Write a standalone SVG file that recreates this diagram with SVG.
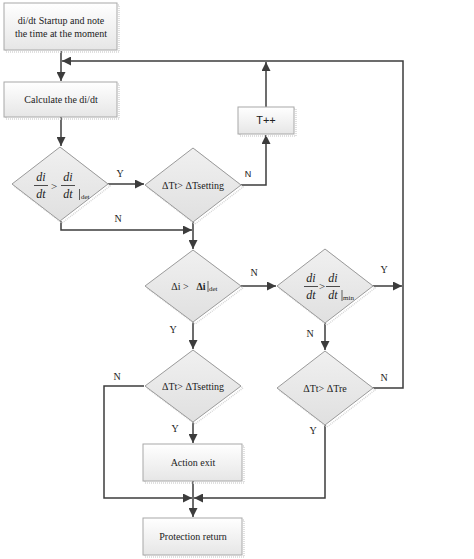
<svg xmlns="http://www.w3.org/2000/svg" width="474" height="559" viewBox="0 0 474 559">
<defs>
<linearGradient id="gBox" x1="0" y1="0" x2="0" y2="1"><stop offset="0" stop-color="#ffffff"/><stop offset="1" stop-color="#e6e6e6"/></linearGradient>
<linearGradient id="gDia" x1="0" y1="0" x2="0" y2="1"><stop offset="0" stop-color="#f0f0f0"/><stop offset="1" stop-color="#e0e0e0"/></linearGradient>
<marker id="arr" viewBox="0 0 10 10" refX="10" refY="5" markerWidth="9" markerHeight="9" markerUnits="userSpaceOnUse" orient="auto"><path d="M0,0 L10,5 L0,10 z" fill="#3c3c3c"/></marker>
</defs>
<style>
.box{fill:url(#gBox);stroke:#a8a8a8;stroke-width:1}
.dia{fill:url(#gDia);stroke:#9a9a9a;stroke-width:1}
.sh{fill:none;stroke:#d6d6d6;stroke-width:1.5;stroke-dasharray:1 1}
.t{font-family:"Liberation Serif",serif;font-size:10px;fill:#222;text-anchor:middle}
.m{font-family:"Liberation Serif",serif;font-style:italic;font-size:12px;fill:#222;text-anchor:middle}
.s{font-family:"Liberation Serif",serif;font-size:7px;fill:#222}
.lbl{font-family:"Liberation Serif",serif;font-size:10px;fill:#222;text-anchor:middle}
.c{fill:none;stroke:#3c3c3c;stroke-width:1.5}
</style>
<rect width="474" height="559" fill="#ffffff"/>
<g id="connectors">
<path class="c" d="M61,51 V81" marker-end="url(#arr)"/>
<path class="c" d="M373,388 H403 V61 H62" marker-end="url(#arr)"/>
<path class="c" d="M61,117 V146" marker-end="url(#arr)"/>
<path class="c" d="M108,184 H144" marker-end="url(#arr)"/>
<path class="c" d="M61,221 V230 H192" marker-end="url(#arr)"/>
<path class="c" d="M241,185 H266 V135" marker-end="url(#arr)"/>
<path class="c" d="M266,107 V62" marker-end="url(#arr)"/>
<path class="c" d="M193,222 V249" marker-end="url(#arr)"/>
<path class="c" d="M241,286 H276" marker-end="url(#arr)"/>
<path class="c" d="M373,286 H402" marker-end="url(#arr)"/>
<path class="c" d="M193,322 V349" marker-end="url(#arr)"/>
<path class="c" d="M325,323 V350" marker-end="url(#arr)"/>
<path class="c" d="M144,386 H104 V498 H192" marker-end="url(#arr)"/>
<path class="c" d="M193,422 V443" marker-end="url(#arr)"/>
<path class="c" d="M325,425 V498 H194" marker-end="url(#arr)"/>
<path class="c" d="M193,481 V517" marker-end="url(#arr)"/>
<text class="lbl" x="120" y="177">Y</text>
<text class="lbl" x="118" y="222">N</text>
<text class="lbl" x="248" y="177" style="font-family:'Liberation Sans',sans-serif;font-size:9px">N</text>
<text class="lbl" x="254" y="276">N</text>
<text class="lbl" x="384" y="273">Y</text>
<text class="lbl" x="173" y="333">Y</text>
<text class="lbl" x="310" y="337">N</text>
<text class="lbl" x="117" y="380">N</text>
<text class="lbl" x="175" y="432">Y</text>
<text class="lbl" x="313" y="434">Y</text>
<text class="lbl" x="384" y="381">N</text>
</g>
<g id="n1">
<rect class="sh" x="6" y="5" width="113" height="47"/>
<rect class="box" x="4" y="3" width="113" height="47"/>
<text class="t" x="61" y="24">di/dt Startup and note</text>
<text class="t" x="61" y="37">the time at the moment</text>
</g>
<g id="n2">
<rect class="sh" x="6" y="84" width="113" height="35"/>
<rect class="box" x="4" y="82" width="113" height="35"/>
<text class="t" x="61" y="103">Calculate the di/dt</text>
</g>
<g id="n3">
<polygon class="sh" points="62,149 110,186 62,223 14,186"/>
<polygon class="dia" points="60,147 108,184 60,221 12,184"/>
<text class="m" x="41" y="181">di</text>
<line x1="34" y1="185.5" x2="48" y2="185.5" stroke="#222" stroke-width="0.8"/>
<text class="m" x="41" y="198">dt</text>
<text class="t" x="54" y="190" style="font-size:11px">&gt;</text>
<text class="m" x="68" y="181">di</text>
<line x1="61" y1="185.5" x2="75" y2="185.5" stroke="#222" stroke-width="0.8"/>
<text class="m" x="68" y="198">dt</text>
<line x1="79.5" y1="189" x2="79.5" y2="200" stroke="#222" stroke-width="0.7"/>
<text class="s" x="81" y="199">det</text>
</g>
<g id="n4">
<polygon class="sh" points="195,150 243,187 195,224 147,187"/>
<polygon class="dia" points="193,148 241,185 193,222 145,185"/>
<text class="t" x="193" y="189">ΔTt&gt; ΔTsetting</text>
</g>
<g id="n5">
<rect class="sh" x="240" y="109" width="56" height="27"/>
<rect class="box" x="238" y="107" width="56" height="27"/>
<text class="t" x="266" y="124" style="font-family:'Liberation Sans',sans-serif;font-size:11px">T++</text>
</g>
<g id="n6">
<polygon class="sh" points="195,252 243,288 195,324 147,288"/>
<polygon class="dia" points="193,250 241,286 193,322 145,286"/>
<text class="t" x="180" y="290">Δi &gt;</text>
<text class="t" x="201" y="290" style="font-weight:bold">Δi</text>
<line x1="208" y1="281" x2="208" y2="292" stroke="#222" stroke-width="0.7"/>
<text class="s" x="209" y="291">det</text>
</g>
<g id="n7">
<polygon class="sh" points="327,251 375,288 327,325 279,288"/>
<polygon class="dia" points="325,249 373,286 325,323 277,286"/>
<text class="m" x="311" y="282">di</text>
<line x1="304" y1="286.5" x2="318" y2="286.5" stroke="#222" stroke-width="0.8"/>
<text class="m" x="311" y="299">dt</text>
<text class="t" x="322" y="290" style="font-size:11px">&gt;</text>
<text class="m" x="333" y="282">di</text>
<line x1="326" y1="286.5" x2="340" y2="286.5" stroke="#222" stroke-width="0.8"/>
<text class="m" x="333" y="299">dt</text>
<line x1="342" y1="290" x2="342" y2="301" stroke="#222" stroke-width="0.7"/>
<text class="s" x="343" y="300">min</text>
</g>
<g id="n8">
<polygon class="sh" points="195,352 243,388 195,424 147,388"/>
<polygon class="dia" points="193,350 241,386 193,422 145,386"/>
<text class="t" x="193" y="390">ΔTt&gt; ΔTsetting</text>
</g>
<g id="n9">
<polygon class="sh" points="327,353 375,390 327,427 279,390"/>
<polygon class="dia" points="325,351 373,388 325,425 277,388"/>
<text class="t" x="325" y="392">ΔTt&gt; ΔTre</text>
</g>
<g id="n10">
<rect class="sh" x="145" y="446" width="99" height="37"/>
<rect class="box" x="143" y="444" width="99" height="37"/>
<text class="t" x="193" y="466">Action exit</text>
</g>
<g id="n11">
<rect class="sh" x="145" y="520" width="99" height="37"/>
<rect class="box" x="143" y="518" width="99" height="37"/>
<text class="t" x="193" y="540">Protection return</text>
</g>
</svg>
